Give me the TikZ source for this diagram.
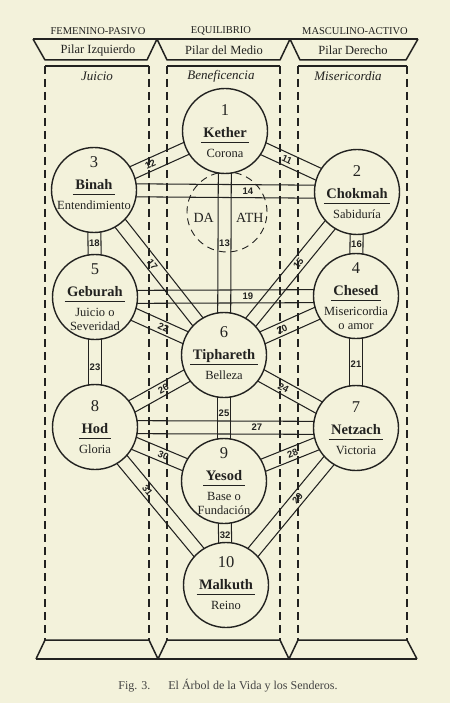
\documentclass[tikz,border=0pt]{standalone}
\usepackage{fontspec}
\setmainfont{Liberation Serif}
\newfontfamily\sendafont{Liberation Sans}
\usetikzlibrary{calc}
\definecolor{papel}{HTML}{F3F2DB}
\definecolor{tinta}{HTML}{222220}

\pgfdeclarelayer{fondo}
\pgfdeclarelayer{sendas}
\pgfsetlayers{fondo,sendas,main}

\newlength\anchotitulo
\newcommand{\fuentecifra}{\fontsize{16.5}{16.5}\selectfont}
\newcommand{\fuentetitulo}{\fontsize{14.5}{14.5}\selectfont\bfseries}
\newcommand{\raya}[1]{\settowidth{\anchotitulo}{\fuentetitulo #1}%
  \rule{\dimexpr\anchotitulo+5pt\relax}{1pt}}

% circulo de una sefira con su texto
\newcommand{\sefira}[6][0pt]{%
  \node[sefira] (#2) at (#3) {};
  \node[textosefira] (#2-texto) at ([yshift=#1]#2.center)
    {{\fuentecifra #4}\\[8pt]{\fuentetitulo #5}\\[-8pt]\raya{#5}\\#6};}

% sendero doble entre dos sefirot
\newcommand{\sendero}[4]{%
  \draw[senda] ($(#1)!6.5pt!90:(#2)$) -- ($(#2)!6.5pt!-90:(#1)$);
  \draw[senda] ($(#1)!6.5pt!-90:(#2)$) -- ($(#2)!6.5pt!90:(#1)$);
  \path (#1.center) -- (#2.center) node[numsenda, #4] (s#3) {#3};}

\begin{document}
\begin{tikzpicture}[x=1pt, y=-1pt, line join=round,
  sefira/.style={circle, draw=tinta, line width=1.4pt, fill=papel, minimum size=85pt, inner sep=0pt},
  textosefira/.style={align=center, text=tinta, inner sep=0pt, font=\fontsize{12.5}{14}\selectfont},
  senda/.style={draw=tinta, line width=1.05pt},
  numsenda/.style={font=\sendafont\bfseries\fontsize{9.5}{9.5}\selectfont, text=tinta, inner sep=0.5pt},
  marco/.style={draw=tinta, line width=1.5pt},
  borde/.style={draw=tinta, line width=1.2pt},
  columna/.style={draw=tinta, line width=1.2pt, dash pattern=on 8pt off 5pt},
  daath/.style={circle, draw=tinta, line width=0.9pt, dash pattern=on 7pt off 5pt, minimum size=80pt, inner sep=0pt},
  cabecera/.style={font=\fontsize{10.5}{12}\selectfont, text=tinta},
  pilar/.style={font=\fontsize{12.5}{14}\selectfont, text=tinta},
  virtud/.style={font=\fontsize{13}{15}\selectfont\itshape, text=tinta},
  pie/.style={font=\fontsize{12}{14}\selectfont, text=tinta!85}]

  \begin{pgfonlayer}{fondo}
    \fill[papel] (0,0) rectangle (450,703);
  \end{pgfonlayer}
  \useasboundingbox (0,0) rectangle (450,703);

  % Cabecera
  \node[cabecera] (femenino) at (98,31) {FEMENINO-PASIVO};
  \node[cabecera] (equilibrio) at (221,31) {EQUILIBRIO};
  \node[cabecera] (masculino) at (355,31) {MASCULINO-ACTIVO};
  \draw[marco] (33,39) -- (418,39);
  \draw[marco] (33,39) -- (45,60) -- (147,60) -- (157,39) -- (167,60) -- (280,60)
    -- (290,39) -- (300,60) -- (406,60) -- (418,39);
  \node[pilar] (izquierdo) at (98,50) {Pilar Izquierdo};
  \node[pilar] (medio) at (224,50) {Pilar del Medio};
  \node[pilar] (derecho) at (353,50) {Pilar Derecho};

  % Columnas
  \draw[borde] (45,66) -- (149,66);
  \draw[borde] (167,66) -- (280,66);
  \draw[borde] (298,66) -- (407,66);
  \foreach \x in {45,149,167,280,298,407}
    \draw[columna] (\x,66) -- (\x,640);
  \node[virtud] (juicio) at (97,76) {Juicio};
  \node[virtud] (beneficencia) at (221,76) {Beneficencia};
  \node[virtud] (misericordia) at (348,76) {Misericordia};

  % Base
  \draw[marco] (36,659) -- (417,659);
  \draw[marco] (36,659) -- (45,640) -- (149,640) -- (158,659) -- (167,640) -- (280,640)
    -- (289,659) -- (298,640) -- (407,640) -- (417,659);

  % Sefirot
  \sefira{kether}{225,131}{1}{Kether}{Corona}
  \sefira{chokmah}{357,192}{2}{Chokmah}{Sabiduría}
  \sefira[7pt]{binah}{94,190}{3}{Binah}{Entendimiento}
  \sefira{chesed}{356,296}{4}{Chesed}{Misericordia\\o amor}
  \sefira{geburah}{95,297}{5}{Geburah}{Juicio o\\Severidad}
  \sefira[2pt]{tiphareth}{224,355}{6}{Tiphareth}{Belleza}
  \sefira{netzach}{356,428}{7}{Netzach}{Victoria}
  \sefira{hod}{95,427}{8}{Hod}{Gloria}
  \sefira{yesod}{224,481}{9}{Yesod}{Base o\\Fundación}
  \sefira[2pt]{malkuth}{226,585}{10}{Malkuth}{Reino}

  % Senderos
  \begin{pgfonlayer}{sendas}
    \sendero{kether}{chokmah}{11}{pos=0.47, sloped}
    \sendero{binah}{kether}{12}{pos=0.43, sloped}
    \sendero{kether}{tiphareth}{13}{pos=0.5}
    \sendero{binah}{chokmah}{14}{pos=0.585}
    \sendero{chokmah}{tiphareth}{15}{pos=0.44, sloped}
    \sendero{chokmah}{chesed}{16}{pos=0.5}
    \sendero{binah}{tiphareth}{17}{pos=0.45, sloped}
    \sendero{binah}{geburah}{18}{pos=0.5}
    \sendero{geburah}{chesed}{19}{pos=0.586}
    \sendero{chesed}{tiphareth}{20}{pos=0.56, sloped}
    \sendero{chesed}{netzach}{21}{pos=0.52}
    \sendero{geburah}{tiphareth}{22}{pos=0.53, sloped}
    \sendero{geburah}{hod}{23}{pos=0.54}
    \sendero{netzach}{tiphareth}{24}{pos=0.55, sloped}
    \sendero{tiphareth}{yesod}{25}{pos=0.46}
    \sendero{hod}{tiphareth}{26}{pos=0.53, sloped}
    \sendero{hod}{netzach}{27}{pos=0.62}
    \sendero{netzach}{yesod}{28}{pos=0.48, sloped}
    \sendero{netzach}{malkuth}{29}{pos=0.45, sloped}
    \sendero{hod}{yesod}{30}{pos=0.53, sloped}
    \sendero{hod}{malkuth}{31}{pos=0.40, sloped}
    \sendero{yesod}{malkuth}{32}{pos=0.52}
    % Daath
    \node[daath] (daath) at (227,212) {};
  \end{pgfonlayer}
  \node[text=tinta, font=\fontsize{14}{14}\selectfont, inner sep=0pt, anchor=east] (da) at (214,218) {DA};
  \node[text=tinta, font=\fontsize{14}{14}\selectfont, inner sep=0pt, anchor=west] (ath) at (236,218) {ATH};

  % Pie
  \node[pie] (pie) at (228,686) {Fig. 3.\hspace{1.5em}El Árbol de la Vida y los Senderos.};
\end{tikzpicture}
\end{document}
